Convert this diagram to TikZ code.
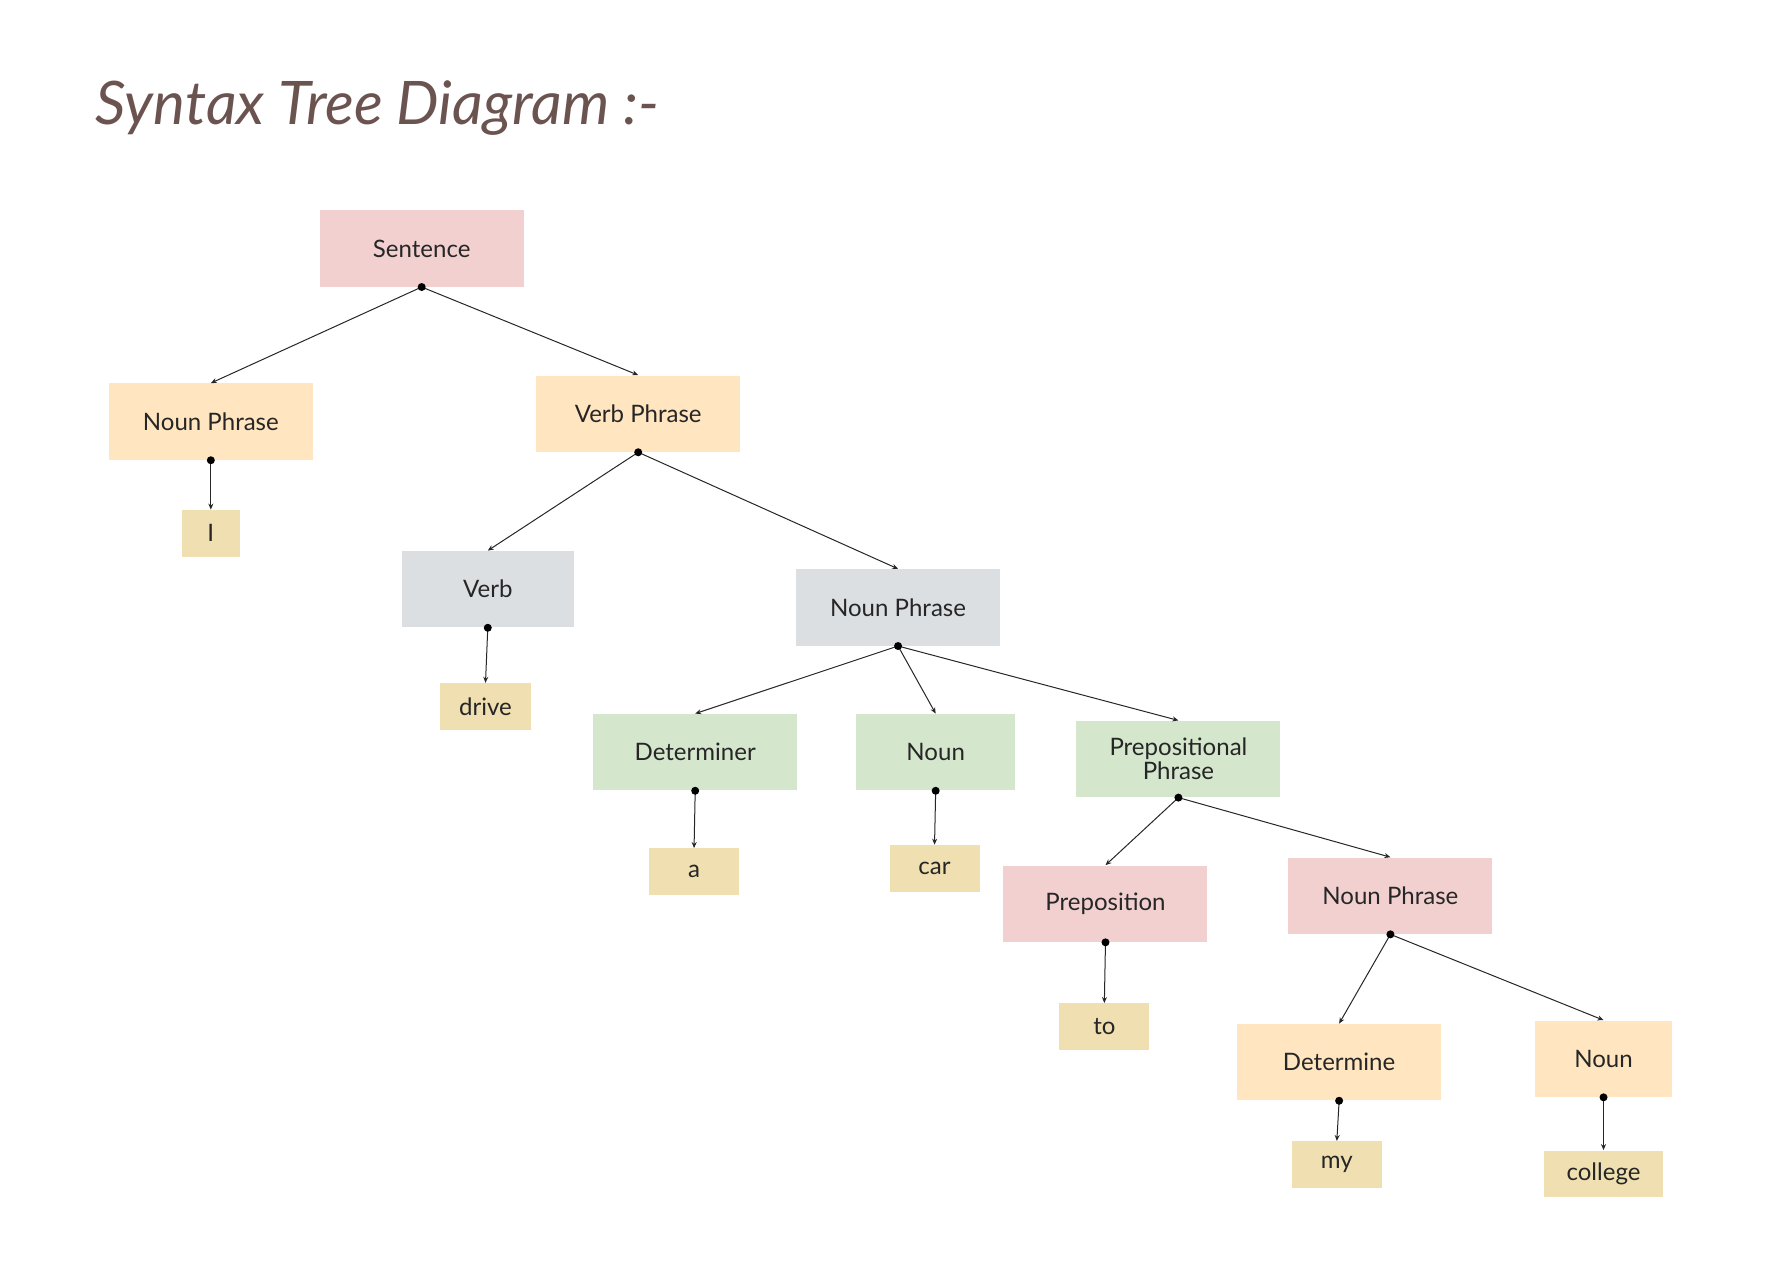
\documentclass[tikz,border=0pt]{standalone}
\usepackage{fontspec}
\setmainfont{Lato}
\usetikzlibrary{arrows.meta}
\definecolor{cpink}{HTML}{F2D0D0}
\definecolor{corange}{HTML}{FFE5C0}
\definecolor{ctan}{HTML}{F0DFB0}
\definecolor{cgray}{HTML}{DCDFE2}
\definecolor{cgreen}{HTML}{D4E6CC}
\definecolor{ctitle}{HTML}{6B5350}
\begin{document}
\begin{tikzpicture}[x=0.02cm,y=-0.02cm,
  box/.style={minimum width=179*0.02cm,minimum height=67*0.02cm,inner sep=0pt,font=\fontsize{12}{14}\selectfont,text=black!85,align=center},
  leaf/.style={minimum width=79*0.02cm,minimum height=41*0.02cm,inner sep=0pt,fill=ctan,font=\fontsize{12}{14}\selectfont,text=black!85},
  edge/.style={draw=black!85,line width=0.5pt,-{Stealth[length=3pt,width=2.5pt]}},
  dot/.style={circle,fill=black,inner sep=0pt,minimum size=4pt}]
\useasboundingbox (0,0) rectangle (1568,1128);
\node[text=ctitle,font=\fontsize{30}{34}\selectfont\itshape,anchor=west] (title) at (78,95) {Syntax Tree Diagram :-};
\node[box,fill=cpink] (s) at (370,218) {Sentence};
\node[box,fill=corange] (np1) at (185,370) {Noun Phrase};
\node[box,fill=corange] (vp) at (560,363) {Verb Phrase};
\node[leaf,minimum width=51*0.02cm] (i) at (185,468) {I};
\node[box,fill=cgray,minimum width=151*0.02cm] (v) at (428,517) {Verb};
\node[box,fill=cgray] (np2) at (788,533) {Noun Phrase};
\node[leaf] (drive) at (426,620) {drive};
\node[box,fill=cgreen] (det) at (610,660) {Determiner};
\node[box,fill=cgreen,minimum width=139*0.02cm] (n) at (821,660) {Noun};
\node[box,fill=cgreen] (pp) at (1034,666) {Prepositional\\[-2pt]Phrase};
\node[leaf] (a) at (609,765) {a};
\node[leaf] (car) at (820,762) {car};
\node[box,fill=cpink] (prep) at (970,793) {Preposition};
\node[box,fill=cpink] (np3) at (1220,786) {Noun Phrase};
\node[leaf] (to) at (969,901) {to};
\node[box,fill=corange] (det2) at (1175,932) {Determine};
\node[box,fill=corange,minimum width=121*0.02cm] (n2) at (1407,929) {Noun};
\node[leaf] (my) at (1173,1022) {my};
\node[leaf,minimum width=105*0.02cm] (col) at (1407,1030) {college};
\foreach \p/\c in {s/np1,s/vp,np1/i,vp/v,vp/np2,v/drive,np2/det,np2/n,np2/pp,det/a,n/car,pp/prep,pp/np3,prep/to,np3/det2,np3/n2,det2/my,n2/col}{
  \draw[edge] (\p.south) -- (\c.north);
}
\foreach \p in {s,np1,vp,v,np2,det,n,pp,prep,np3,det2,n2}{\node[dot] (d\p) at (\p.south) {};}
\end{tikzpicture}
\end{document}
